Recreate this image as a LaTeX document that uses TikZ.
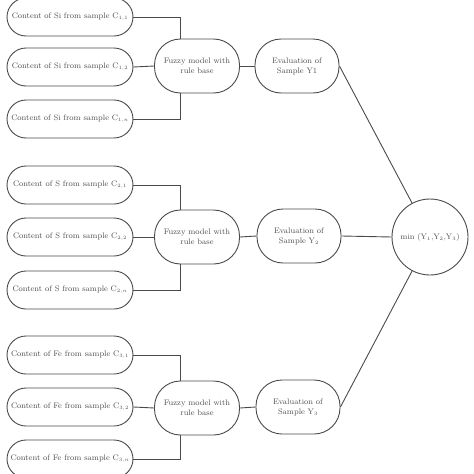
\documentclass[tikz,border=0pt]{standalone}
\usetikzlibrary{calc}
\definecolor{ink}{HTML}{4A4A4A}
\definecolor{txt}{HTML}{505050}
\newcommand{\sbs}[1]{$_{\scriptscriptstyle #1}$}
\begin{document}
\begin{tikzpicture}[x=1pt,y=-1pt,
  every node/.style={text=txt,font=\fontsize{8}{10}\selectfont,align=center,inner sep=0pt},
  inbox/.style={draw=ink,line width=0.9pt,rectangle,rounded corners=19pt,minimum width=126pt,minimum height=38pt},
  fuzzbox/.style={draw=ink,line width=0.9pt,rectangle,rounded corners=26pt,minimum width=85pt,minimum height=54pt},
  evalbox/.style={draw=ink,line width=0.9pt,rectangle,rounded corners=26pt,minimum width=84pt,minimum height=54pt},
  minnode/.style={draw=ink,line width=0.9pt,circle,minimum size=76pt},
  conn/.style={draw=ink,line width=0.9pt}]
\useasboundingbox (0,0) rectangle (474,474);
% group 1 (Si)
\node[inbox] (a1) at (70,17) {Content of Si from sample C\sbs{1,1}};
\node[inbox] (a2) at (70,67) {Content of Si from sample C\sbs{1,2}};
\node[inbox] (a3) at (70,119) {Content of Si from sample C\sbs{1,n}};
\node[fuzzbox] (f1) at (197,66) {Fuzzy model with\\rule base};
\node[evalbox] (e1) at (297,66) {Evaluation of\\Sample Y1};
% group 2 (S)
\node[inbox] (b1) at (70,185) {Content of S from sample C\sbs{2,1}};
\node[inbox] (b2) at (70,237) {Content of S from sample C\sbs{2,2}};
\node[inbox] (b3) at (70,290) {Content of S from sample C\sbs{2,n}};
\node[fuzzbox] (f2) at (197,237) {Fuzzy model with\\rule base};
\node[evalbox] (e2) at (299,236) {Evaluation of\\Sample Y\sbs{2}};
% group 3 (Fe)
\node[inbox] (c1) at (70,355) {Content of Fe from sample C\sbs{3,1}};
\node[inbox] (c2) at (70,407) {Content of Fe from sample C\sbs{3,2}};
\node[inbox] (c3) at (70,459) {Content of Fe from sample C\sbs{3,n}};
\node[fuzzbox] (f3) at (197,408) {Fuzzy model with\\rule base};
\node[evalbox] (e3) at (298,407) {Evaluation of\\Sample Y\sbs{3}};
% min
\node[minnode] (m) at (430,237) {min (Y\sbs{1},Y\sbs{2},Y\sbs{3})};
% connectors
\foreach \g/\f in {a/f1,b/f2,c/f3}{
  \draw[conn] (\g1.east) -| ([xshift=-17pt]\f.north);
  \draw[conn] (\g2.east) -- (\f.west);
  \draw[conn] (\g3.east) -| ([xshift=-17pt]\f.south);
}
\draw[conn] (f1.east) -- (e1.west);
\draw[conn] (f2.east) -- (e2.west);
\draw[conn] (f3.east) -- (e3.west);
\draw[conn] (e1.east) -- (m);
\draw[conn] (e2.east) -- (m.west);
\draw[conn] (e3.east) -- (m);
\end{tikzpicture}
\end{document}
